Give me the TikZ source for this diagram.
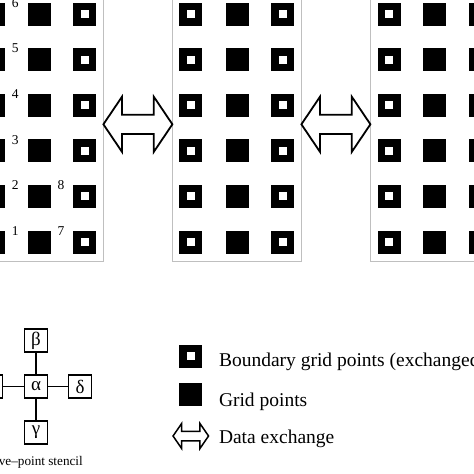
\documentclass[tikz,border=0pt]{standalone}
\usepackage{fontspec}
\setmainfont{Liberation Serif}
\usetikzlibrary{shapes.arrows}
\tikzset{
  panel/.style={draw=black!25, line width=1pt, minimum width=129pt, minimum height=271pt, inner sep=0pt},
  bpt/.style={draw=black, fill=white, line width=7.5pt, minimum size=15.5pt, inner sep=0pt},
  gpt/.style={fill=black, minimum size=23pt, inner sep=0pt},
  num/.style={font=\fontsize{13.5}{13.5}\selectfont, inner sep=0pt},
  dexch/.style={double arrow, draw=black, fill=white, line width=1.8pt, inner xsep=0pt, inner ysep=8.7pt,
     text height=0pt, text depth=0pt, text width=0pt, double arrow head extend=18pt, double arrow tip angle=112,
     minimum height=69pt},
  dexchs/.style={double arrow, draw=black, fill=white, line width=1.5pt, inner xsep=0pt, inner ysep=4pt,
     text height=0pt, text depth=0pt, text width=0pt, double arrow head extend=7.7pt, double arrow tip angle=111,
     minimum height=35.5pt},
  sbox/.style={draw=black, line width=1.5pt, minimum size=23pt, inner sep=0pt, font=\fontsize{19}{19}\selectfont},
  slink/.style={draw=black, line width=1.5pt},
  legtext/.style={font=\fontsize{19.5}{19.5}\selectfont, anchor=base west, inner sep=0pt},
}
\begin{document}
\begin{tikzpicture}[x=1pt,y=-1pt]
\useasboundingbox (0,0) rectangle (474,474);
\clip (0,0) rectangle (474,474);
\fill[white] (0,0) rectangle (474,474);
% panels
\node[panel] (P1) at (39,125.5) {};
\node[panel] (P2) at (237.2,125.5) {};
\node[panel] (P3) at (434.5,125.5) {};
% grid points
\foreach \r [count=\i] in {242,196.4,150.8,105.2,59.6,14} {
  \node[bpt] (a\i) at (-7,\r) {};
  \node[gpt] (b\i) at (39,\r) {};
  \node[bpt] (c\i) at (84.5,\r) {};
  \node[bpt] (d\i) at (190.8,\r) {};
  \node[gpt] (e\i) at (237,\r) {};
  \node[bpt] (f\i) at (282.7,\r) {};
  \node[bpt] (g\i) at (389,\r) {};
  \node[gpt] (h\i) at (434.5,\r) {};
  \node[bpt] (k\i) at (480,\r) {};
  \node[num] (n\i) at (15.3,\r-11) {\i};
}
\node[num] (n7) at (61,231) {7};
\node[num] (n8) at (61,185.4) {8};
% exchange arrows
\node[dexch] (x1) at (137.9,124.3) {};
\node[dexch] (x2) at (335.9,124.3) {};
% stencil
\node[sbox] (al) at (36,386.5) {α};
\node[sbox] (be) at (36,340.5) {β};
\node[sbox] (ga) at (36,432.5) {γ};
\node[sbox] (de) at (80.2,386.5) {δ};
\node[sbox] (le) at (-9,386.5) {};
\draw[slink] (al) -- (be);
\draw[slink] (al) -- (ga);
\draw[slink] (al) -- (de);
\draw[slink] (al) -- (le);
\node[inner sep=0pt, anchor=base east, font=\fontsize{13.2}{13.2}\selectfont] (cap) at (83,465) {Five–point stencil};
% legend
\node[bpt] (lb) at (190.8,356.3) {};
\node[gpt] (lg) at (190.8,394.7) {};
\node[dexchs] (lx) at (190.8,436) {};
\node[legtext] (tb) at (218.8,366.7) {Boundary grid points (exchanged)};
\node[legtext] (tg) at (218.8,406) {Grid points};
\node[legtext] (tx) at (218.8,443.3) {Data exchange};
\end{tikzpicture}
\end{document}
